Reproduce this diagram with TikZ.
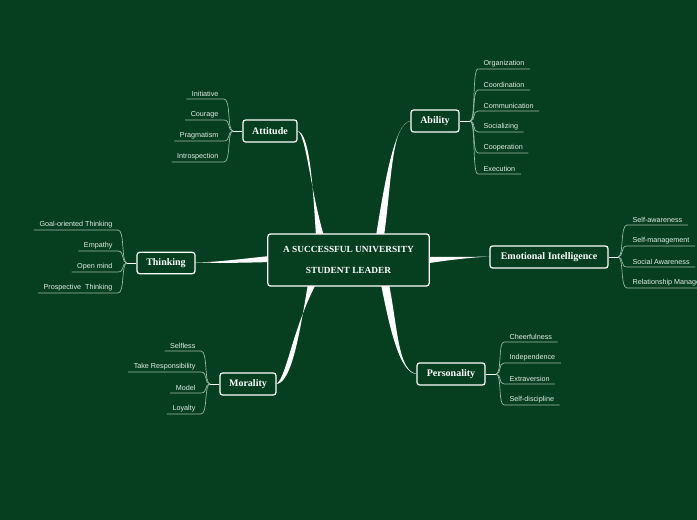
\documentclass[tikz,border=0pt]{standalone}
\usepackage{fontspec}
\setmainfont{Liberation Serif}
\newfontfamily\leaffont{Liberation Sans}
\definecolor{bg}{HTML}{063F20}
\definecolor{leafc}{HTML}{E4ECE6}
\definecolor{leafl}{HTML}{9DBBA6}
\begin{document}
\begin{tikzpicture}[x=0.75pt,y=-0.75pt,
  topic/.style={draw=white,line width=0.9pt,rounded corners=2pt,fill=bg,text=white,font=\bfseries\fontsize{7.5}{9}\selectfont,inner sep=0pt},
  leaf/.style={text=leafc,font=\leaffont\fontsize{5.4}{6}\selectfont,inner xsep=4pt,inner ysep=1.5pt},
  lline/.style={draw=leafl,line width=0.5pt},
  thick/.style={fill=white}]
\useasboundingbox[fill=bg] (0,0) rectangle (697,520);
% tapered connectors
\fill[thick] (316,236) .. controls (313,190) and (310,131) .. (297,131) .. controls (306,131) and (310,190) .. (324,236) -- cycle;
\fill[thick] (376,236) .. controls (385,180) and (395,121) .. (411,121) .. controls (391,124) and (392,180) .. (384,236) -- cycle;
\fill[thick] (429,257) .. controls (450,257) and (470,257) .. (490,256.5) .. controls (470,257.5) and (450,260) .. (429,263) -- cycle;
\fill[thick] (381,284) .. controls (390,330) and (400,374) .. (417,374) .. controls (398,371) and (398,330) .. (389,284) -- cycle;
\fill[thick] (308,284) .. controls (300,330) and (292,384) .. (276,384) .. controls (286,380) and (292,330) .. (316,284) -- cycle;
\fill[thick] (270,256) .. controls (240,259) and (220,262) .. (195,262.5) .. controls (220,263) and (240,263) .. (270,262) -- cycle;
% nodes
\node[topic,minimum width=121pt,minimum height=39pt,align=center,font=\bfseries\fontsize{7}{15.5}\selectfont] (main) at (348.5,260) {A SUCCESSFUL UNIVERSITY\\STUDENT LEADER};
\node[topic,minimum width=40.5pt,minimum height=16.5pt] (att) at (270,131) {Attitude};
\node[topic,minimum width=36pt,minimum height=16.5pt] (abi) at (435,121) {Ability};
\node[topic,minimum width=88.5pt,minimum height=16.5pt] (emo) at (549,257) {Emotional Intelligence};
\node[topic,minimum width=51pt,minimum height=16.5pt] (per) at (451,374) {Personality};
\node[topic,minimum width=42pt,minimum height=16.5pt] (mor) at (248,384) {Morality};
\node[topic,minimum width=43.5pt,minimum height=16pt] (thi) at (166,263) {Thinking};
% attach points
\coordinate (abiA) at (470,121); \draw[white,line width=0.6pt] (abi.east) -- (abiA);
\coordinate (emoA) at (618,257); \draw[white,line width=0.6pt] (emo.east) -- (emoA);
\coordinate (perA) at (496,374); \draw[white,line width=0.6pt] (per.east) -- (perA);
\coordinate (attA) at (233,131); \draw[white,line width=0.6pt] (att.west) -- (attA);
\coordinate (morA) at (210,384); \draw[white,line width=0.6pt] (mor.west) -- (morA);
\coordinate (thiA) at (127,263); \draw[white,line width=0.6pt] (thi.west) -- (thiA);
% right leaves
\foreach \t [count=\i] in {Organization,Coordination,Communication,Socializing,Cooperation,Execution}{
  \node[leaf,anchor=south west] (ab\i) at (478,48+21*\i) {\t};
  \draw[lline] (abiA) .. controls (476,121) and (472,48+21*\i) .. (ab\i.south west) -- (ab\i.south east);}
\foreach \t [count=\i] in {Self-awareness,Self-management,Social Awareness,Relationship Management}{
  \node[leaf,anchor=south west] (em\i) at (627,204+21*\i) {\t};
  \draw[lline] (emoA) .. controls (624,257) and (620,204+21*\i) .. (em\i.south west) -- (em\i.south east);}
\foreach \t [count=\i] in {Cheerfulness,Independence,Extraversion,Self-discipline}{
  \node[leaf,anchor=south west] (pe\i) at (504,321+21*\i) {\t};
  \draw[lline] (perA) .. controls (502,374) and (498,321+21*\i) .. (pe\i.south west) -- (pe\i.south east);}
% left leaves
\foreach \t [count=\i] in {Initiative,Courage,Pragmatism,Introspection}{
  \node[leaf,anchor=south east] (at\i) at (224,78+21*\i) {\t};
  \draw[lline] (attA) .. controls (227,131) and (231,78+21*\i) .. (at\i.south east) -- (at\i.south west);}
\foreach \t [count=\i] in {Goal-oriented Thinking,Empathy,Open mind,Prospective\ \ Thinking}{
  \node[leaf,anchor=south east] (th\i) at (118,209+21*\i) {\t};
  \draw[lline] (thiA) .. controls (121,263) and (125,209+21*\i) .. (th\i.south east) -- (th\i.south west);}
\foreach \t [count=\i] in {Selfless,Take Responsibility,Model,Loyalty}{
  \node[leaf,anchor=south east] (mo\i) at (201,330+21*\i) {\t};
  \draw[lline] (morA) .. controls (204,384) and (208,330+21*\i) .. (mo\i.south east) -- (mo\i.south west);}
\end{tikzpicture}
\end{document}
